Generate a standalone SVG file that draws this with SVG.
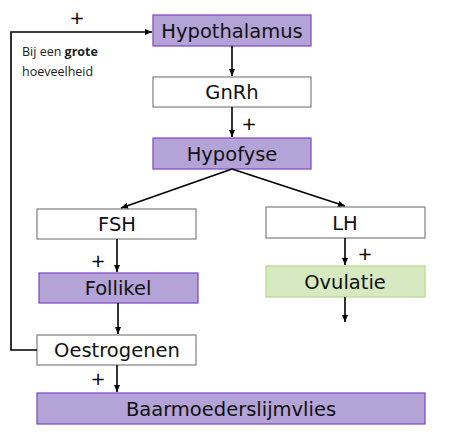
<svg xmlns="http://www.w3.org/2000/svg" width="454" height="445" viewBox="0 0 454 445">
<defs>
<marker id="ah" markerWidth="8" markerHeight="8" refX="7" refY="4" orient="auto" markerUnits="userSpaceOnUse">
<path d="M0,1 L7,4 L0,7 Z" fill="#000"/>
</marker>
<style>
.p{fill:#b4a3d7;stroke:#7a45c4;stroke-width:1.2}
.w{fill:#fff;stroke:#7f7f7f;stroke-width:1.2}
.g{fill:#d6e9c0;stroke:#b4d98e;stroke-width:1.2}
.t{font-family:"DejaVu Sans",sans-serif;font-size:19.5px;fill:#111;text-anchor:middle}
.pl{font-family:"DejaVu Sans",sans-serif;font-size:18px;fill:#000;text-anchor:middle}
.s{font-family:"Open Sans",sans-serif;font-size:12.5px;fill:#222}
.c{stroke:#000;stroke-width:1.6;fill:none}
</style>
</defs>
<rect width="454" height="445" fill="#fff"/>
<g id="hypothalamus"><rect class="p" x="153" y="15" width="158" height="31"/><text class="t" x="232" y="37.5">Hypothalamus</text></g>
<g id="gnrh"><rect class="w" x="153" y="77" width="158" height="30"/><text class="t" x="232" y="99">GnRh</text></g>
<g id="hypofyse"><rect class="p" x="153" y="138" width="158" height="31"/><text class="t" x="232" y="160.5">Hypofyse</text></g>
<g id="fsh"><rect class="w" x="37" y="209" width="159" height="30"/><text class="t" x="117" y="231">FSH</text></g>
<g id="lh"><rect class="w" x="266" y="207" width="159" height="31"/><text class="t" x="345" y="229.5">LH</text></g>
<g id="follikel"><rect class="p" x="39" y="273" width="159" height="30"/><text class="t" x="118" y="295">Follikel</text></g>
<g id="ovulatie"><rect class="g" x="266" y="266" width="159" height="31"/><text class="t" x="345" y="288.5">Ovulatie</text></g>
<g id="oestrogenen"><rect class="w" x="37" y="335" width="159" height="30"/><text class="t" x="117" y="357">Oestrogenen</text></g>
<g id="baarmoederslijmvlies"><rect class="p" x="37" y="393" width="388" height="31"/><text class="t" x="231" y="415.5">Baarmoederslijmvlies</text></g>
<g id="connectors">
<line class="c" x1="232" y1="46" x2="232" y2="76" marker-end="url(#ah)"/>
<line class="c" x1="232" y1="107" x2="232" y2="137" marker-end="url(#ah)"/>
<line class="c" x1="232" y1="169" x2="121" y2="208" marker-end="url(#ah)"/>
<line class="c" x1="232" y1="169" x2="345" y2="206" marker-end="url(#ah)"/>
<line class="c" x1="117" y1="239" x2="117" y2="272" marker-end="url(#ah)"/>
<line class="c" x1="345" y1="238" x2="345" y2="265" marker-end="url(#ah)"/>
<line class="c" x1="345" y1="297" x2="345" y2="322" marker-end="url(#ah)"/>
<line class="c" x1="118" y1="303" x2="118" y2="334" marker-end="url(#ah)"/>
<line class="c" x1="117" y1="365" x2="117" y2="392" marker-end="url(#ah)"/>
<polyline class="c" points="37,350 11,350 11,32 152,32" marker-end="url(#ah)"/>
</g>
<g id="labels">
<text class="pl" x="77" y="24">+</text>
<text class="pl" x="249" y="130">+</text>
<text class="pl" x="98" y="267">+</text>
<text class="pl" x="365" y="260">+</text>
<text class="pl" x="98" y="385">+</text>
<text class="s" x="22" y="56">Bij een <tspan font-weight="bold">grote</tspan></text>
<text class="s" x="22" y="76">hoeveelheid</text>
</g>
</svg>
